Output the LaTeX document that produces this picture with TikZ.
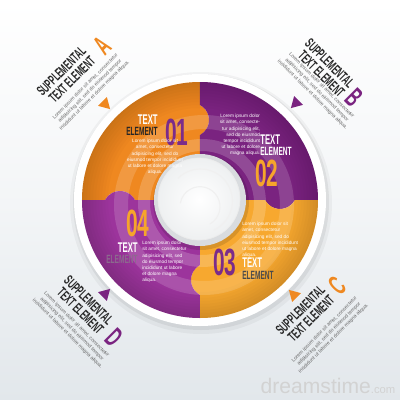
\documentclass[tikz,border=0pt]{standalone}
\usepackage{fontspec}
\setmainfont{Liberation Sans}
\newfontfamily\condb[FakeStretch=0.55]{Liberation Sans}
\newfontfamily\lorf{Liberation Sans}
\usetikzlibrary{shapes.geometric}
\definecolor{orA}{HTML}{EF8820}
\definecolor{orC}{HTML}{F7A82F}
\definecolor{puB}{HTML}{7A2380}
\definecolor{puD}{HTML}{9C349C}
\definecolor{numpu}{HTML}{7B2C8A}
\definecolor{numor}{HTML}{F6A52B}
\definecolor{dark}{HTML}{262626}
\definecolor{lorgray}{HTML}{666666}
\definecolor{bgb}{HTML}{E2E7EB}
\definecolor{holering}{HTML}{D9DCDF}
\definecolor{holein}{HTML}{EEF0F1}
\definecolor{elmD}{HTML}{8C6A8E}
\definecolor{elmC}{HTML}{4A4A4A}
\tikzset{
  num/.style={font=\condb\bfseries\fontsize{27}{27}\selectfont, inner sep=0},
  ttl/.style={font=\condb\bfseries\fontsize{10}{10}\selectfont, inner sep=0},
  elm/.style={font=\condb\bfseries\fontsize{8.5}{8.5}\selectfont, inner sep=0},
  lorin/.style={font=\lorf\fontsize{3.4}{4.4}\selectfont, text=white, inner sep=0},
  ctitle/.style={font=\condb\bfseries\fontsize{10}{9.5}\selectfont, text=dark, align=right, inner sep=0},
  cletter/.style={font=\condb\bfseries\fontsize{20}{20}\selectfont, inner sep=0},
  clorem/.style={font=\lorf\fontsize{3.6}{4.6}\selectfont, text=lorgray, align=center, inner sep=0},
  tri/.style={regular polygon, regular polygon sides=3, minimum size=0.36cm, inner sep=0}
}
\begin{document}
\begin{tikzpicture}[scale=0.025]
\useasboundingbox (-200,-200) rectangle (200,200);
% background
\shade[top color=white, bottom color=bgb, middle color=white!60!bgb] (-200,-200) rectangle (200,200);
% outer rim with shadow
\fill[black, opacity=0.04] (1,-3) circle (131);
\fill[black, opacity=0.06] (1,-2) circle (128);
\fill[white] (0,0) circle (126);
% puzzle pieces (each with a round bump into the next piece clockwise)
\foreach \ang/\col in {0/orA,-90/puB,180/orC,90/puD}{
  \fill[\col, rotate=\ang] (0,42) -- (0,65)
    arc[start angle=-61.93, delta angle=123.86, radius=17] -- (0,118)
    arc[start angle=90, end angle=180, radius=118] -- (-95,0)
    arc[start angle=151.93, delta angle=-123.86, radius=17] -- (-42,0)
    arc[start angle=180, end angle=90, radius=42] -- cycle;
}
% rim darkening and light bands
\foreach \r in {116,113,...,92}{
  \fill[black, opacity=0.014, even odd rule] (0,0) circle (118) (0,0) circle (\r);
}
\begin{scope}
  \clip (0,0) circle (118);
  \fill[white, opacity=0.15, even odd rule] (4,-5) circle (90) (4,-5) circle (76);
  \fill[white, opacity=0.18, even odd rule] (2,-3) circle (64) (2,-3) circle (52);
\end{scope}
% hole
\fill[black, opacity=0.12] (1,-2) circle (48);
\fill[holering] (0,0) circle (46);
\shade[inner color=white, outer color=holein] (-1,1) circle (41);
\draw[white!85!gray, line width=0.5pt] (-1,1) circle (41);
\draw[gray!12, line width=0.8pt] (14,-30) arc[start angle=-65, delta angle=200, radius=32];
\draw[gray!12, line width=0.8pt] (10,-24) arc[start angle=-60, delta angle=230, radius=20];
% piece 01
\node[ttl, text=white, anchor=east] (t1) at (-42,80) {TEXT};
\node[elm, text=dark, anchor=east] (e1) at (-42,69) {ELEMENT};
\node[num, text=numpu] (n1) at (-23,68) {01};
\node[lorin, align=center] (l1) at (-45,43) {Lorem ipsum dolor sit\\amet, consectetur\\adipisicing elit, sed do\\eiusmod tempor incididunt\\ut labore et dolore magna\\aliqua.};
% piece 02
\node[lorin, align=right] (l2) at (40,65) {Lorem ipsum dolor\\sit amet, consecte-\\tur adipisicing elit,\\sed do eiusmod\\tempor incididunt\\ut labore et dolore\\magna aliqua.};
\node[ttl, text=white, anchor=west] (t2) at (60,60) {TEXT};
\node[elm, text=white, anchor=west] (e2) at (60,49) {ELEMENT};
\node[num, text=numor] (n2) at (67,27) {02};
% piece 03
\node[lorin, align=left, anchor=west] (l3) at (42,-40) {Lorem ipsum dolor sit\\amet, consectetur\\adipisicing elit, sed do\\eiusmod tempor incididunt\\ut labore et dolore magna\\aliqua.};
\node[num, text=numpu] (n3) at (25,-62) {03};
\node[ttl, text=white, anchor=west] (t3) at (42,-63) {TEXT};
\node[elm, text=elmC, anchor=west] (e3) at (42,-75) {ELEMENT};
% piece 04
\node[num, text=numor] (n4) at (-62,-23) {04};
\node[ttl, text=white, anchor=east] (t4) at (-62,-48) {TEXT};
\node[elm, text=elmD, anchor=east] (e4) at (-62,-59) {ELEMENT};
\node[lorin, align=left, anchor=west] (l4) at (-58,-62) {Lorem ipsum dolor\\sit amet, consectetur\\adipisicing elit, sed\\do eiusmod tempor\\incididunt ut labore\\et dolore magna\\aliqua.};
% corner A
\node[ctitle, rotate=45] (tA) at (-134,124) {SUPPLEMENTAL\\TEXT ELEMENT};
\node[cletter, text=orA, rotate=45] (lA) at (-98,154) {A};
\node[clorem, rotate=45] (pA) at (-110,109) {Lorem ipsum dolor sit amet, consectetur\\adipisicing elit, sed do eiusmod tempor\\incididunt ut labore et dolore magna aliqua.};
\node[tri, fill=orA, rotate=-135] (trA) at (-95,96) {};
% corner B
\node[ctitle, rotate=-45] (tB) at (125,132) {SUPPLEMENTAL\\TEXT ELEMENT};
\node[cletter, text=puB, rotate=-45] (lB) at (154,102) {B};
\node[clorem, rotate=-45] (pB) at (117,110) {Lorem ipsum dolor sit amet, consectetur\\adipisicing elit, sed do eiusmod tempor\\incididunt ut labore et dolore magna aliqua.};
\node[tri, fill=puB, rotate=135] (trB) at (96,97) {};
% corner C
\node[ctitle, rotate=45] (tC) at (105,-115) {SUPPLEMENTAL\\TEXT ELEMENT};
\node[cletter, text=orA, rotate=45] (lC) at (137,-86) {C};
\node[clorem, rotate=45] (pC) at (129,-134) {Lorem ipsum dolor sit amet, consectetur\\adipisicing elit, sed do eiusmod tempor\\incididunt ut labore et dolore magna aliqua.};
\node[tri, fill=orA, rotate=45] (trC) at (94,-95) {};
% corner D
\node[ctitle, rotate=-45] (tD) at (-116,-105) {SUPPLEMENTAL\\TEXT ELEMENT};
\node[cletter, text=puB, rotate=-45] (lD) at (-86,-138) {D};
\node[clorem, rotate=-45] (pD) at (-128,-129) {Lorem ipsum dolor sit amet, consectetur\\adipisicing elit, sed do eiusmod tempor\\incididunt ut labore et dolore magna aliqua.};
\node[tri, fill=puB, rotate=-45] (trD) at (-95,-94) {};
% watermark
\node[font=\lorf\fontsize{15}{15}\selectfont, text=gray!35, inner sep=0] (wm) at (128,-186) {dreamstime{\fontsize{8}{8}\selectfont.com}};
\end{tikzpicture}
\end{document}
